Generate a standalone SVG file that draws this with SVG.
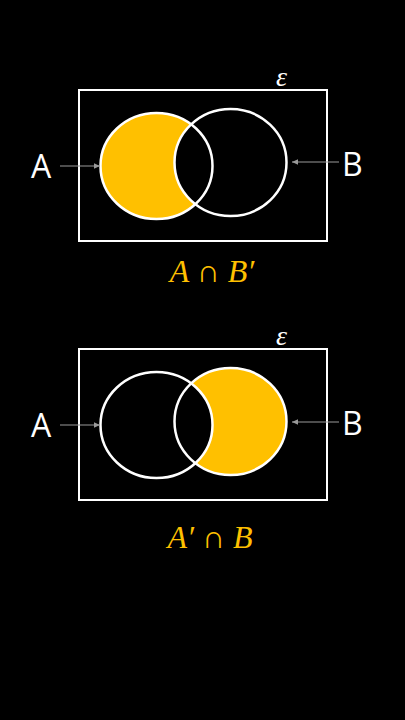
<svg xmlns="http://www.w3.org/2000/svg" width="405" height="720" viewBox="0 0 405 720">
<style>
.box{fill:none;stroke:#fff;stroke-width:2}
.c{fill:none;stroke:#fff;stroke-width:2.5}
.lbl{font-family:"Open Sans","Liberation Sans",sans-serif;font-size:32px;fill:#fff}
.eps{font-family:"Liberation Serif",serif;font-style:italic;font-size:28px;fill:#fff}
.f{font-family:"Liberation Serif",serif;font-style:italic;font-size:32px;fill:#FFC000}
.ar{stroke:#999;stroke-width:1.2;fill:none;marker-end:url(#ah)}
</style>
<defs><marker id="ah" markerWidth="6" markerHeight="6" refX="5" refY="3" orient="auto"><path d="M0,0.8 L5,3 L0,5.2 z" fill="#999"/></marker></defs>
<rect width="405" height="720" fill="#000"/>
<g id="diagram1">
<rect class="box" x="79" y="90" width="248" height="151"/>
<ellipse cx="156.5" cy="166" rx="56" ry="53" fill="#FFC000"/>
<ellipse cx="230.5" cy="162.5" rx="56" ry="53.5" fill="#000"/>
<ellipse class="c" cx="156.5" cy="166" rx="56" ry="53"/>
<ellipse class="c" cx="230.5" cy="162.5" rx="56" ry="53.5"/>
<text class="eps" x="276" y="86">ε</text>
<text class="lbl" x="31" y="178">A</text>
<text class="lbl" x="342" y="176">B</text>
<text class="f" x="212" y="282" text-anchor="middle">A ∩ B′</text>
</g>
<g id="diagram2">
<rect class="box" x="79" y="349" width="248" height="151"/>
<ellipse cx="230.5" cy="421.5" rx="56" ry="53.5" fill="#FFC000"/>
<ellipse cx="156.5" cy="425" rx="56" ry="53" fill="#000"/>
<ellipse class="c" cx="156.5" cy="425" rx="56" ry="53"/>
<ellipse class="c" cx="230.5" cy="421.5" rx="56" ry="53.5"/>
<text class="eps" x="276" y="345">ε</text>
<text class="lbl" x="31" y="437">A</text>
<text class="lbl" x="342" y="435">B</text>
<text class="f" x="210" y="548" text-anchor="middle">A′ ∩ B</text>
</g>
<g id="connectors">
<line class="ar" x1="60" y1="166" x2="100" y2="166"/>
<line class="ar" x1="339" y1="162" x2="292" y2="162"/>
<line class="ar" x1="60" y1="425" x2="100" y2="425"/>
<line class="ar" x1="339" y1="422" x2="292" y2="422"/>
</g>
</svg>
